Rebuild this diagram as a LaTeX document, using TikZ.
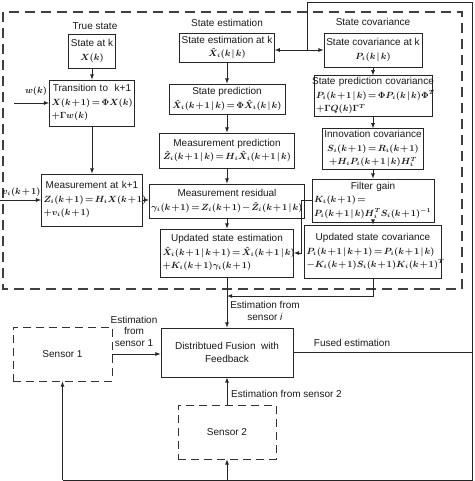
\documentclass[tikz,border=0pt]{standalone}
\usepackage[no-math]{fontspec}
\setmainfont{Liberation Sans}
\usepackage{amsmath}
\tikzstyle{blk}=[draw=black!85,thick,inner sep=2pt,align=center,text=black!90,font=\fontsize{10}{13.5}\selectfont\boldmath]
\tikzstyle{sensor}=[draw=black!80,thick,dash pattern=on 8pt off 5pt,inner sep=2pt,text=black!90,font=\fontsize{10}{12}\selectfont]
\tikzstyle{frame}=[draw=black!75,line width=1.5pt,dash pattern=on 10pt off 6pt]
\tikzstyle{lbl}=[inner sep=0pt,align=center,text=black!90,font=\fontsize{10}{11.5}\selectfont\boldmath]
\tikzstyle{wire}=[draw=black!85,thick]
\newcommand{\ttl}[1]{\makebox[\hsize]{#1}}
\newcommand{\eq}[1]{\mbox{\fontsize{8.6}{11}\selectfont\medmuskip=1.5mu\thickmuskip=2.5mu$#1$}}
\newcommand{\cnd}{\mkern2mu|\mkern2mu}

\begin{document}
\begin{tikzpicture}[x=1pt,y=-1pt,>=latex]
  \useasboundingbox (0,0) rectangle (474,481);

  % local filter of sensor i
  \draw[frame] (3,12) rectangle (462,289);
  \node[lbl] (tt1) at (95,26)  {True state};
  \node[lbl] (tt2) at (227,23) {State estimation};
  \node[lbl] (tt3) at (373,22) {State covariance};

  \node[blk,minimum width=47pt,minimum height=34pt] (st) at (92,51) {State at k\\\eq{X(k)}};
  \node[blk,text width=81pt,minimum height=46pt,align=left] (tr) at (92,103)
    {\ttl{Transition to\ \ k+1}\\\eq{X(k+1)=\Phi X(k)}\\\eq{+\Gamma w(k)}};
  \node[blk,text width=97pt,minimum height=52pt,align=left] (ms) at (92,200)
    {\ttl{Measurement at k+1}\\\eq{Z_i(k+1)=H_iX(k+1)}\\\eq{+v_i(k+1)}};

  \node[blk,minimum width=93pt,minimum height=29pt] (se) at (227,47.5) {State estimation at k\\\eq{\hat X_i(k\cnd k)}};
  \node[blk,minimum width=116pt,minimum height=30pt] (sp) at (227,99)
    {State prediction\\\eq{\hat X_i(k+1\cnd k)=\Phi\hat X_i(k\cnd k)}};
  \node[blk,minimum width=135pt,minimum height=35pt] (mp) at (227,150.5)
    {Measurement prediction\\\eq{\hat Z_i(k+1\cnd k)=H_i\hat X_i(k+1\cnd k)}};
  \node[blk,minimum width=147pt,minimum height=34pt] (mr) at (227,201)
    {Measurement residual\\\eq{\gamma_i(k+1)=Z_i(k+1)-\hat Z_i(k+1\cnd k)}};
  \node[blk,text width=129pt,minimum height=48pt,align=left] (us) at (227,253)
    {\ttl{Updated state estimation}\\\eq{\hat X_i(k+1\cnd k+1)=\hat X_i(k+1\cnd k)}\\\eq{+K_i(k+1)\gamma_i(k+1)}};

  \node[blk,minimum width=98pt,minimum height=34pt] (sc) at (373,50) {State covariance at k\\\eq{P_i(k\cnd k)}};
  \node[blk,text width=114pt,minimum height=38pt,align=left] (pc) at (373,96)
    {\ttl{State prediction covariance}\\\eq{P_i(k+1\cnd k)=\Phi P_i(k\cnd k)\Phi^T}\\\eq{+\Gamma Q(k)\Gamma^T}};
  \node[blk,minimum width=100pt,minimum height=40pt] (ic) at (373,149)
    {Innovation covariance\\\eq{S_i(k+1)=R_i(k+1)}\\\eq{+H_iP_i(k+1\cnd k)H_i^T}};
  \node[blk,text width=118pt,minimum height=43pt,align=left] (fg) at (373,200.5)
    {\ttl{Filter gain}\\\eq{K_i(k+1)=}\\\eq{P_i(k+1\cnd k)H_i^TS_i(k+1)^{-1}}};
  \node[blk,text width=133pt,minimum height=53pt,align=left] (uc) at (373,251.5)
    {\ttl{Updated state covariance}\\\eq{P_i(k+1\cnd k+1)=P_i(k+1\cnd k)}\\\eq{-K_i(k+1)S_i(k+1)K_i(k+1)^T}};

  % fusion centre and other sensors
  \node[sensor,minimum width=99pt,minimum height=54pt] (s1) at (62.5,354) {Sensor 1};
  \node[blk,align=center,minimum width=132pt,minimum height=49pt,font=\fontsize{10}{12.5}\selectfont] (fu) at (227,352.5)
    {Distribtued Fusion\ \ with\\Feedback};
  \node[sensor,minimum width=98pt,minimum height=54pt] (s2) at (227,432) {Sensor 2};

  \coordinate (win) at (14,103);
  \coordinate (vin) at (0,200);
  \coordinate (fb)  at (307,50);
  \coordinate (tr2) at (472,2);
  \coordinate (br)  at (472,480);
  \coordinate (mj)  at (227,296);

  \foreach \from/\to in {st/tr, tr/ms, se/sp, sp/mp, mp/mr, mr/us, sc/pc, pc/ic, ic/fg, fg/uc, us/fu}
    \draw[wire,->] (\from) -- (\to);

  \draw[wire,->] (win) -- (tr.west);
  \draw[wire,->] (vin) -- (ms.west);
  \node[lbl] (wl) at (36,91) {\eq{w(k)}};
  \node[lbl,anchor=west] (vl) at (2,192) {\eq{v_i(k+1)}};
  \draw[wire,->] (ms.east) -- (ms.east -| mr.west);
  \draw[wire,->] (fg.west) -- ++(-10,0) |- (us.east);
  \draw[wire,->] (uc.south) |- (mj);

  % feedback of the fused estimation
  \draw[wire] (fu.east) -- (fu.east -| br);
  \draw[wire] (fb) |- (tr2) -- (br) -- (br -| s1.south);
  \draw[wire,->] (fb) -- (fb -| se.east);
  \draw[wire,->] (fb) -- (fb -| sc.west);
  \draw[wire,->] (br -| s1.south) -- (s1.south);
  \draw[wire,->] (br -| s2.south) -- (s2.south);
  \draw[wire,->] (s1.east) -- (s1.east -| fu.west);
  \draw[wire,->] (s2.north) -- (fu.south);

  \node[lbl,font=\fontsize{10}{11.5}\selectfont] (l1) at (265,311) {Estimation from\\sensor \textit{i}};
  \node[lbl,font=\fontsize{10}{11.5}\selectfont] (l2) at (134,331) {Estimation\\from\\sensor 1};
  \node[lbl,font=\fontsize{10}{11.5}\selectfont,anchor=west] (l3) at (231,394) {Estimation from sensor 2};
  \node[lbl,font=\fontsize{10}{11.5}\selectfont] (l4) at (352,343) {Fused estimation};
\end{tikzpicture}
\end{document}
